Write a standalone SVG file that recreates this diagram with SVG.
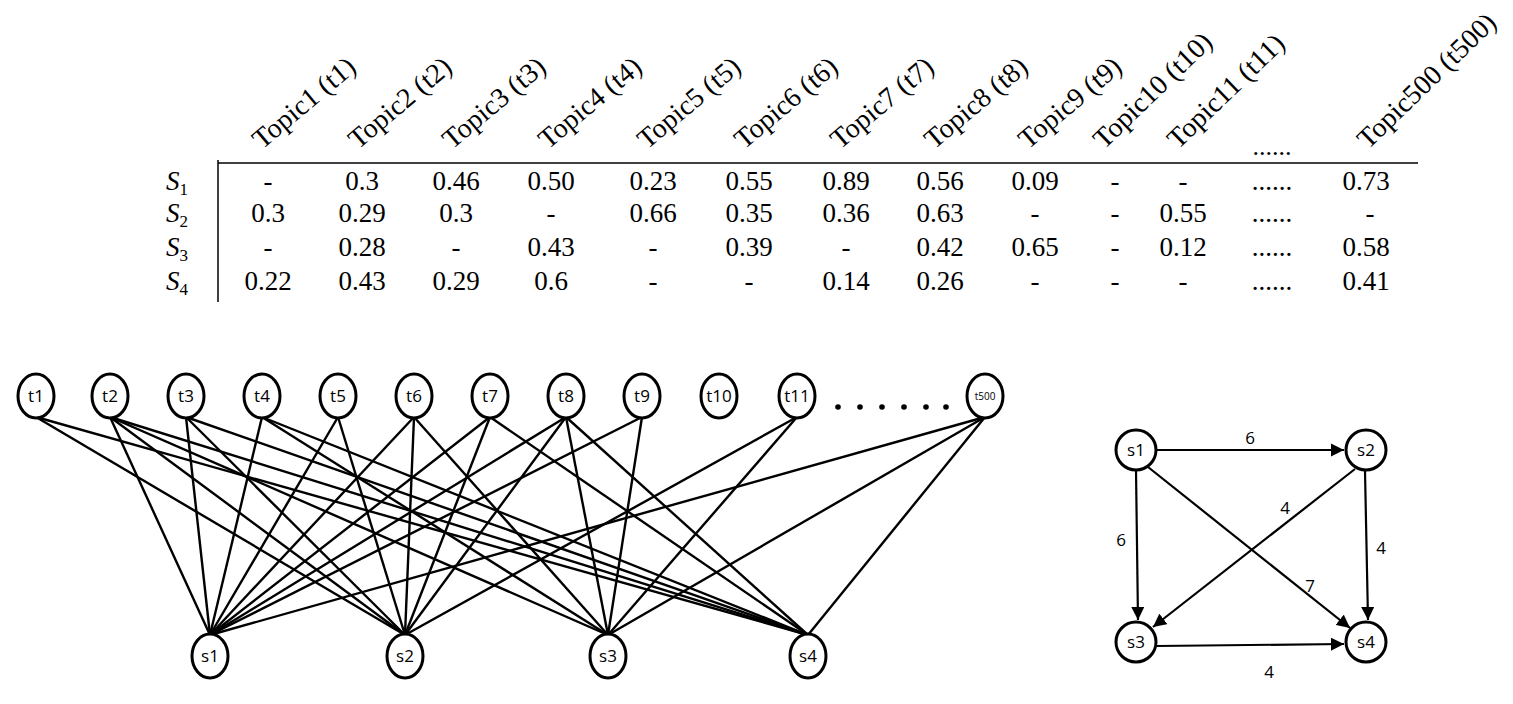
<svg xmlns="http://www.w3.org/2000/svg" width="1513" height="704" viewBox="0 0 1513 704">
<defs>
<style>
.h{font-family:"Liberation Serif",serif;font-size:28px}
.s{font-family:"Liberation Serif",serif;font-size:27px;font-style:italic}
.sub{font-size:17px;font-style:normal}
.n ellipse,.n circle{fill:#fff;stroke:#000;stroke-width:3}
.n text{font-family:"Open Sans","DejaVu Sans",sans-serif;font-size:17px;text-anchor:middle}
.e line{stroke:#000;stroke-width:2.4}
.r line{stroke:#000;stroke-width:2.2}
.lb{font-family:"Open Sans","DejaVu Sans",sans-serif;font-size:17px;text-anchor:middle}
</style>
<marker id="a" viewBox="0 0 10 10" refX="10" refY="5" markerWidth="6" markerHeight="6" orient="auto"><path d="M0,0L10,5L0,10z"/></marker>
</defs>
<rect width="1513" height="704" fill="#fff"/>
<g id="table">
<g class="h">
<text transform="translate(262,150) rotate(-40)">Topic1 (t1)</text>
<text transform="translate(358,150) rotate(-40)">Topic2 (t2)</text>
<text transform="translate(452,150) rotate(-40)">Topic3 (t3)</text>
<text transform="translate(548,150) rotate(-40)">Topic4 (t4)</text>
<text transform="translate(647,150) rotate(-40)">Topic5 (t5)</text>
<text transform="translate(744,150) rotate(-40)">Topic6 (t6)</text>
<text transform="translate(840,150) rotate(-40)">Topic7 (t7)</text>
<text transform="translate(934,150) rotate(-40)">Topic8 (t8)</text>
<text transform="translate(1028,150) rotate(-40)">Topic9 (t9)</text>
<text transform="translate(1104,150) rotate(-44)">Topic10 (t10)</text>
<text transform="translate(1178,150) rotate(-44)">Topic11 (t11)</text>
<text transform="translate(1368,150) rotate(-44)">Topic500 (t500)</text>
</g>
<text x="1272" y="155" font-family="Liberation Serif, serif" font-size="26" text-anchor="middle">......</text>
<line x1="218" y1="163" x2="1418" y2="163" stroke="#000" stroke-width="1.5"/>
<line x1="218" y1="160" x2="218" y2="302" stroke="#000" stroke-width="1.5"/>
<text class="s" x="166" y="190">S<tspan class="sub" dy="5">1</tspan></text>
<text class="s" x="166" y="222">S<tspan class="sub" dy="5">2</tspan></text>
<text class="s" x="166" y="256">S<tspan class="sub" dy="5">3</tspan></text>
<text class="s" x="166" y="290">S<tspan class="sub" dy="5">4</tspan></text>
<g font-family="Liberation Serif, serif" font-size="27" text-anchor="middle">
<text x="268" y="190">-</text><text x="362" y="190">0.3</text><text x="456" y="190">0.46</text><text x="551" y="190">0.50</text><text x="653" y="190">0.23</text><text x="749" y="190">0.55</text><text x="846" y="190">0.89</text><text x="940" y="190">0.56</text><text x="1035" y="190">0.09</text><text x="1115" y="190">-</text><text x="1183" y="190">-</text><text x="1272" y="190">......</text><text x="1366" y="190">0.73</text>
<text x="268" y="222">0.3</text><text x="362" y="222">0.29</text><text x="456" y="222">0.3</text><text x="551" y="222">-</text><text x="653" y="222">0.66</text><text x="749" y="222">0.35</text><text x="846" y="222">0.36</text><text x="940" y="222">0.63</text><text x="1035" y="222">-</text><text x="1115" y="222">-</text><text x="1183" y="222">0.55</text><text x="1272" y="222">......</text><text x="1370" y="222">-</text>
<text x="268" y="256">-</text><text x="362" y="256">0.28</text><text x="456" y="256">-</text><text x="551" y="256">0.43</text><text x="653" y="256">-</text><text x="749" y="256">0.39</text><text x="846" y="256">-</text><text x="940" y="256">0.42</text><text x="1035" y="256">0.65</text><text x="1115" y="256">-</text><text x="1183" y="256">0.12</text><text x="1272" y="256">......</text><text x="1366" y="256">0.58</text>
<text x="268" y="290">0.22</text><text x="362" y="290">0.43</text><text x="456" y="290">0.29</text><text x="551" y="290">0.6</text><text x="653" y="290">-</text><text x="749" y="290">-</text><text x="846" y="290">0.14</text><text x="940" y="290">0.26</text><text x="1035" y="290">-</text><text x="1115" y="290">-</text><text x="1183" y="290">-</text><text x="1272" y="290">......</text><text x="1366" y="290">0.41</text>
</g>
</g>
<g id="bipartite-edges" class="e">
<line x1="36" y1="417" x2="405" y2="635"/><line x1="36" y1="417" x2="808" y2="635"/>
<line x1="110" y1="417" x2="210" y2="635"/><line x1="110" y1="417" x2="405" y2="635"/><line x1="110" y1="417" x2="608" y2="635"/><line x1="110" y1="417" x2="808" y2="635"/>
<line x1="186" y1="417" x2="210" y2="635"/><line x1="186" y1="417" x2="405" y2="635"/><line x1="186" y1="417" x2="808" y2="635"/>
<line x1="262" y1="417" x2="210" y2="635"/><line x1="262" y1="417" x2="608" y2="635"/><line x1="262" y1="417" x2="808" y2="635"/>
<line x1="338" y1="417" x2="210" y2="635"/><line x1="338" y1="417" x2="405" y2="635"/>
<line x1="414" y1="417" x2="210" y2="635"/><line x1="414" y1="417" x2="405" y2="635"/><line x1="414" y1="417" x2="608" y2="635"/>
<line x1="490" y1="417" x2="210" y2="635"/><line x1="490" y1="417" x2="405" y2="635"/><line x1="490" y1="417" x2="808" y2="635"/>
<line x1="566" y1="417" x2="210" y2="635"/><line x1="566" y1="417" x2="405" y2="635"/><line x1="566" y1="417" x2="608" y2="635"/><line x1="566" y1="417" x2="808" y2="635"/>
<line x1="642" y1="417" x2="210" y2="635"/><line x1="642" y1="417" x2="608" y2="635"/>
<line x1="797" y1="417" x2="405" y2="635"/><line x1="797" y1="417" x2="608" y2="635"/>
<line x1="985" y1="417" x2="210" y2="635"/><line x1="985" y1="417" x2="608" y2="635"/><line x1="985" y1="417" x2="808" y2="635"/>
</g>
<g id="t1" class="n"><ellipse cx="36" cy="396" rx="18" ry="22"/><text x="36" y="402">t1</text></g>
<g id="t2" class="n"><ellipse cx="110" cy="396" rx="18" ry="22"/><text x="110" y="402">t2</text></g>
<g id="t3" class="n"><ellipse cx="186" cy="396" rx="18" ry="22"/><text x="186" y="402">t3</text></g>
<g id="t4" class="n"><ellipse cx="262" cy="396" rx="18" ry="22"/><text x="262" y="402">t4</text></g>
<g id="t5" class="n"><ellipse cx="338" cy="396" rx="18" ry="22"/><text x="338" y="402">t5</text></g>
<g id="t6" class="n"><ellipse cx="414" cy="396" rx="18" ry="22"/><text x="414" y="402">t6</text></g>
<g id="t7" class="n"><ellipse cx="490" cy="396" rx="18" ry="22"/><text x="490" y="402">t7</text></g>
<g id="t8" class="n"><ellipse cx="566" cy="396" rx="18" ry="22"/><text x="566" y="402">t8</text></g>
<g id="t9" class="n"><ellipse cx="642" cy="396" rx="18" ry="22"/><text x="642" y="402">t9</text></g>
<g id="t10" class="n"><ellipse cx="719" cy="396" rx="18" ry="22"/><text x="719" y="402">t10</text></g>
<g id="t11" class="n"><ellipse cx="797" cy="396" rx="18" ry="22"/><text x="797" y="402">t11</text></g>
<g id="t500" class="n"><ellipse cx="985" cy="396" rx="18" ry="22"/><text x="985" y="400" style="font-size:10px">t500</text></g>
<g id="dots" fill="#000"><circle cx="838" cy="407" r="2.8"/><circle cx="860" cy="407" r="2.8"/><circle cx="882" cy="407" r="2.8"/><circle cx="904" cy="407" r="2.8"/><circle cx="926" cy="407" r="2.8"/><circle cx="946" cy="407" r="2.8"/></g>
<g id="s1b" class="n"><ellipse cx="210" cy="656" rx="18" ry="22"/><text x="210" y="662">s1</text></g>
<g id="s2b" class="n"><ellipse cx="405" cy="656" rx="18" ry="22"/><text x="405" y="662">s2</text></g>
<g id="s3b" class="n"><ellipse cx="608" cy="656" rx="18" ry="22"/><text x="608" y="662">s3</text></g>
<g id="s4b" class="n"><ellipse cx="808" cy="656" rx="18" ry="22"/><text x="808" y="662">s4</text></g>
<g id="directed-edges" class="r">
<line x1="1157" y1="450" x2="1344" y2="450" marker-end="url(#a)"/>
<line x1="1136" y1="470" x2="1138" y2="620" marker-end="url(#a)"/>
<line x1="1148" y1="467" x2="1350" y2="628" marker-end="url(#a)"/>
<line x1="1355" y1="469" x2="1153" y2="627" marker-end="url(#a)"/>
<line x1="1365" y1="471" x2="1368" y2="620" marker-end="url(#a)"/>
<line x1="1157" y1="646" x2="1344" y2="644" marker-end="url(#a)"/>
</g>
<g id="edge-labels" class="lb">
<text x="1250" y="444">6</text><text x="1121" y="546">6</text><text x="1285" y="514">4</text><text x="1381" y="554">4</text><text x="1310" y="592">7</text><text x="1269" y="678">4</text>
</g>
<g id="s1" class="n"><circle cx="1136" cy="450" r="20"/><text x="1136" y="456">s1</text></g>
<g id="s2" class="n"><circle cx="1366" cy="450" r="20"/><text x="1366" y="456">s2</text></g>
<g id="s3" class="n"><circle cx="1136" cy="642" r="20"/><text x="1136" y="648">s3</text></g>
<g id="s4" class="n"><circle cx="1366" cy="642" r="20"/><text x="1366" y="648">s4</text></g>
</svg>
